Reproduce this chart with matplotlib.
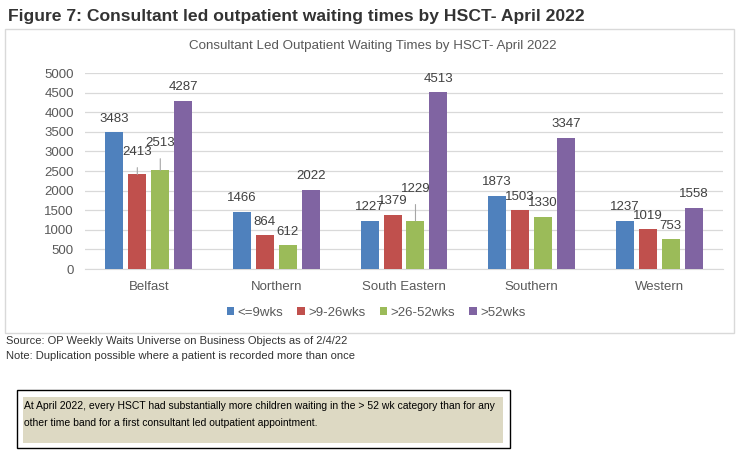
import numpy as np
import matplotlib
matplotlib.use("Agg")
import matplotlib.pyplot as plt
from matplotlib.patches import Rectangle

plt.rcParams['font.family'] = ['Liberation Sans', 'DejaVu Sans']

# data
trusts = ['Belfast', 'Northern', 'South Eastern', 'Southern', 'Western']
bands = ['<=9wks', '>9-26wks', '>26-52wks', '>52wks']
wait_9 = [3483, 1466, 1227, 1873, 1237]
wait_9_26 = [2413, 864, 1379, 1503, 1019]
wait_26_52 = [2513, 612, 1229, 1330, 753]
wait_52 = [4287, 2022, 4513, 3347, 1558]
yticks = [0, 500, 1000, 1500, 2000, 2500, 3000, 3500, 4000, 4500, 5000]

colours = ['#4F81BD', '#C0504D', '#9BBB59', '#8064A2']
grey = '#595959'

# labels that excel pushed up with a leader line: (series, trust) -> extra px
lifted = {(1, 0): 9, (2, 0): 14, (2, 2): 18.5}

W, H = 737, 465
fig = plt.figure(figsize=(W / 100, H / 100), dpi=100)

def fx(px):
    return px / W

def fy(py):
    return 1 - py / H

# outer chart frame
fig.patches.append(Rectangle((fx(5), fy(333)), fx(734) - fx(5), fy(29) - fy(333),
                             transform=fig.transFigure, fill=False,
                             edgecolor='#D9D9D9', lw=1))

fig.text(fx(8), fy(16), 'Figure 7: Consultant led outpatient waiting times by HSCT- April 2022',
         fontsize=12.6, fontweight='bold', color='#333333', va='center')
fig.text(fx(373), fy(46), 'Consultant Led Outpatient Waiting Times by HSCT- April 2022',
         fontsize=9.6, color=grey, ha='center', va='center')

ax = fig.add_axes([fx(85), fy(269), fx(723) - fx(85), fy(73) - fy(269)])

x = np.arange(len(trusts))
series = [wait_9, wait_9_26, wait_26_52, wait_52]
stride = 0.18
width = 0.141
for i, vals in enumerate(series):
    pos = x + (i - 1.5) * stride
    ax.bar(pos, vals, width, color=colours[i], label=bands[i], zorder=3)
    for j, v in enumerate(vals):
        extra = lifted.get((i, j), 0)
        dy = (13.5 + extra) * 0.72
        if extra:
            ax.annotate(str(v), (pos[j], v), xytext=(0, dy), textcoords='offset points',
                        ha='center', va='center', fontsize=9.5, color='#404040',
                        arrowprops=dict(arrowstyle='-', color='#A6A6A6', lw=0.8,
                                        shrinkA=5, shrinkB=0))
        else:
            ax.annotate(str(v), (pos[j], v), xytext=(0, dy), textcoords='offset points',
                        ha='center', va='center', fontsize=9.5, color='#404040')

ax.set_xlim(-0.5, len(trusts) - 0.5)
ax.set_ylim(0, 5000)
ax.set_yticks(yticks)
ax.set_xticks(x)
ax.set_xticklabels(trusts)
ax.tick_params(axis='both', length=0, labelsize=9.5, labelcolor=grey)
ax.tick_params(axis='x', pad=9)
ax.tick_params(axis='y', pad=8)
ax.grid(axis='y', color='#D9D9D9', lw=0.9, zorder=0)
for s in ['top', 'right', 'left']:
    ax.spines[s].set_visible(False)
ax.spines['bottom'].set_color('#D9D9D9')
ax.set_ylabel('Number Waiting', fontsize=9.5, color=grey)
ax.yaxis.label.set_transform(fig.transFigure)
ax.yaxis.label.set_position((fx(33), fy(170)))

leg = fig.legend(loc='center', bbox_to_anchor=(fx(376), fy(313)), ncol=4, frameon=False,
                 fontsize=9.5, handlelength=0.55, handleheight=0.55, handletextpad=0.25,
                 columnspacing=1.1)
for t in leg.get_texts():
    t.set_color(grey)

fig.text(fx(6), fy(341), 'Source: OP Weekly Waits Universe on Business Objects as of 2/4/22',
         fontsize=8, color='#333333', va='center')
fig.text(fx(6), fy(356), 'Note: Duplication possible where a patient is recorded more than once',
         fontsize=8, color='#333333', va='center')

# comment box
fig.patches.append(Rectangle((fx(17), fy(448)), fx(510) - fx(17), fy(390) - fy(448),
                             transform=fig.transFigure, facecolor='white',
                             edgecolor='black', lw=1))
fig.patches.append(Rectangle((fx(23), fy(443)), fx(503) - fx(23), fy(397) - fy(443),
                             transform=fig.transFigure, facecolor='#DDD9C3',
                             edgecolor='none'))
fig.text(fx(24), fy(406), 'At April 2022, every HSCT had substantially more children waiting in the > 52 wk category than for any',
         fontsize=7.5, color='black', va='center')
fig.text(fx(24), fy(423), 'other time band for a first consultant led outpatient appointment.',
         fontsize=7.5, color='black', va='center')

fig.savefig('out.png', dpi=100)
